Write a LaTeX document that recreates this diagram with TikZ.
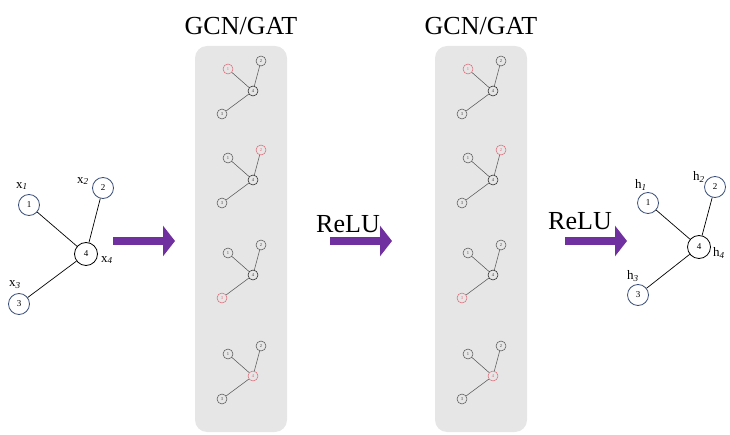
\documentclass[tikz,border=0pt]{standalone}
\usepackage{fontspec}
\setmainfont{Liberation Serif}
\usepackage{xcolor}
\usepackage{tikz}
\usetikzlibrary{arrows.meta,backgrounds}
\definecolor{nodeblue}{HTML}{3A4E7A}
\definecolor{arrowpurple}{HTML}{7030A0}
\definecolor{hlred}{HTML}{E06A78}
\definecolor{panelgray}{HTML}{E6E6E6}

\begin{document}
\begin{tikzpicture}[
  x=1pt, y=-1pt,
  % Styles
  vtx/.style={circle, draw=nodeblue, line width=0.8pt, minimum size=21pt, inner sep=0pt,
              fill=white, font=\fontsize{9}{9}\selectfont},
  hub/.style={vtx, draw=black, minimum size=23pt},
  feat/.style={font=\fontsize{13}{13}\selectfont, inner sep=0pt},
  edge/.style={line width=0.7pt},
  svtx/.style={circle, draw=black!65, line width=0.55pt, minimum size=10pt, inner sep=0pt,
               fill=panelgray, text=black!75, font=\fontsize{4.5}{4.5}\selectfont},
  hot/.style={draw=hlred, text=hlred},
  pick/.code 2 args={\ifnum#1=#2\relax\pgfkeysalso{/tikz/hot}\fi},
  sedge/.style={draw=black!65, line width=0.55pt},
  panel/.style={fill=panelgray, rounded corners=12pt, minimum width=92pt, minimum height=386pt},
  title/.style={font=\fontsize{26}{26}\selectfont, anchor=base},
  fat/.style={arrowpurple, line width=8pt, -{Triangle[length=12pt, width=30pt]}}
]
\useasboundingbox (0,0) rectangle (730,435);

% --- 1. Input graph ---
\node[vtx] (in1) at (29,205) {1};
\node[vtx] (in2) at (103,188) {2};
\node[hub] (in4) at (86,254) {4};
\node[vtx] (in3) at (19,304) {3};
\draw[edge] (in1) -- (in4);
\draw[edge] (in2) -- (in4);
\draw[edge] (in3) -- (in4);
\node[feat] (lin1) at (22,186) {x\textsubscript{\textit{1}}};
\node[feat] (lin2) at (83,181) {x\textsubscript{\textit{2}}};
\node[feat] (lin4) at (107,260) {x\textsubscript{\textit{4}}};
\node[feat] (lin3) at (15,285) {x\textsubscript{\textit{3}}};

% --- 2. Layer panels (one small graph per node) ---
\node[panel] (panelA) at (241,239) {};
\node[panel] (panelB) at (481,239) {};
\node[title] (titleA) at (241,35) {GCN/GAT};
\node[title] (titleB) at (481,35) {GCN/GAT};

\foreach \p/\px in {A/228, B/468} {
  \foreach \g/\gy in {1/69, 2/158, 3/253, 4/354} {
    \node[svtx, pick={1}{\g}] (\p\g-1) at (\px,\gy) {1};
    \node[svtx, pick={2}{\g}] (\p\g-2) at (\px+33,\gy-8) {2};
    \node[svtx, draw=black!85, pick={4}{\g}] (\p\g-4) at (\px+25,\gy+22) {4};
    \node[svtx, pick={3}{\g}] (\p\g-3) at (\px-6,\gy+45) {3};
    \draw[sedge] (\p\g-1) -- (\p\g-4);
    \draw[sedge] (\p\g-2) -- (\p\g-4);
    \draw[sedge] (\p\g-3) -- (\p\g-4);
  }
}

% --- 3. Output graph ---
\node[vtx] (out1) at (648,203) {1};
\node[vtx] (out2) at (715,187) {2};
\node[hub] (out4) at (699,247) {4};
\node[vtx] (out3) at (638,295) {3};
\draw[edge] (out1) -- (out4);
\draw[edge] (out2) -- (out4);
\draw[edge] (out3) -- (out4);
\node[feat] (lout1) at (641,185) {h\textsubscript{\textit{1}}};
\node[feat] (lout2) at (699,177) {h\textsubscript{\textit{2}}};
\node[feat] (lout4) at (719,253) {h\textsubscript{\textit{4}}};
\node[feat] (lout3) at (633,276) {h\textsubscript{\textit{3}}};

% --- 4. Flow arrows ---
\coordinate (a1s) at (113,241);
\coordinate (a1e) at (175,241);
\coordinate (a2s) at (330,241);
\coordinate (a2e) at (392,241);
\coordinate (a3s) at (565,241);
\coordinate (a3e) at (627,241);
\draw[fat] (a1s) -- (a1e);
\draw[fat] (a2s) -- (a2e);
\draw[fat] (a3s) -- (a3e);
\node[title] (relu1) at (348,233) {ReLU};
\node[title] (relu2) at (580,230) {ReLU};

\end{tikzpicture}
\end{document}
